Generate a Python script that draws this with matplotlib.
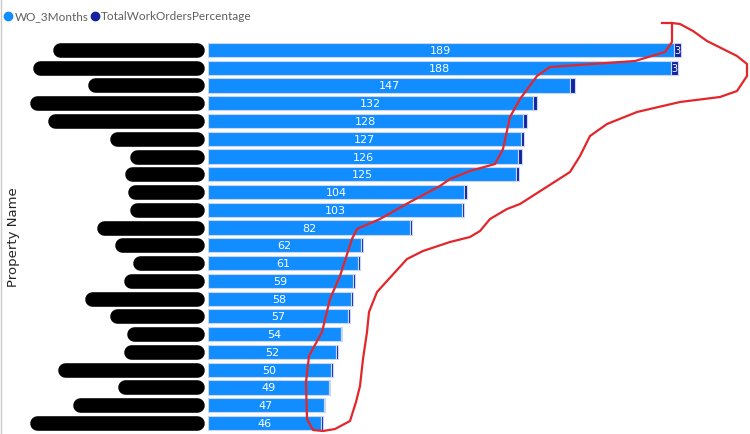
import matplotlib.pyplot as plt
import numpy as np

# data (property names are blacked out in the source)
wo3Months = [189, 188, 147, 132, 128, 127, 126, 125, 104, 103, 82,
             62, 61, 59, 58, 57, 54, 52, 50, 49, 47, 46]
woPercent = [3, 3, 2, 1.7, 1.6, 1.4, 1.5, 1.3, 1.1, 1.1, 0.9,
             0.8, 0.8, 0.7, 0.7, 0.7, 0.6, 0.6, 0.6, 0.6, 0.6, 0.5]
percentLabels = ["3", "3"] + [""] * 20

# left end (px) of the black redaction scribble on each row
scribbleLeft = [53, 33, 88, 30, 48, 110, 130, 125, 128, 130, 97,
                115, 133, 124, 85, 110, 127, 124, 58, 118, 73, 30]

# hand drawn red outline (figure pixels)
redX = [662, 672, 672, 665, 635, 550, 537, 520, 510, 503, 495, 470, 450, 440,
        410, 380, 357, 352, 340, 330, 322, 309, 306, 307, 313, 323, 335, 350,
        356, 360, 363, 367, 369, 377, 387, 407, 423, 450, 470, 480, 490, 507,
        520, 570, 580, 590, 607, 637, 680, 720, 737, 747, 747, 737, 717, 707,
        693, 680, 672]
redY = [24, 24, 43, 53, 62, 68, 77, 100, 118, 150, 165, 172, 180, 187,
        203, 220, 230, 240, 277, 300, 333, 357, 383, 420, 431, 432, 430, 422,
        403, 387, 360, 333, 313, 293, 282, 260, 252, 243, 238, 232, 220, 210,
        205, 173, 157, 137, 125, 113, 103, 98, 92, 77, 65, 57, 47, 42,
        32, 25, 24]

W, H = 750, 435
lightBlue = "#118DFF"
darkBlue = "#12239E"

fig = plt.figure(figsize=(W / 100, H / 100), dpi=100)
ax = fig.add_axes([208 / W, 2.2 / H, 532 / W, 390.7 / H])

y = np.arange(len(wo3Months))
ax.barh(y, wo3Months, height=0.8, color=lightBlue, edgecolor="#c9d6f6", linewidth=0.8)
ax.barh(y, woPercent, left=wo3Months, height=0.8, color=darkBlue, edgecolor="#c9d6f6", linewidth=0.8)

for i in range(len(wo3Months)):
    ax.text(wo3Months[i] / 2, i, str(wo3Months[i]), color="white",
            ha="center", va="center", fontsize=8)
    if percentLabels[i]:
        ax.text(wo3Months[i] + woPercent[i] / 2, i, percentLabels[i], color="white",
                ha="center", va="center", fontsize=7)

ax.set_xlim(0, 216)
ax.set_ylim(len(wo3Months) - 0.5, -0.5)
ax.axis("off")

# overlay in pixel coordinates for legend, axis title and the drawn-on marks
ov = fig.add_axes([0, 0, 1, 1], facecolor="none")
ov.set_xlim(0, W)
ov.set_ylim(H, 0)
ov.axis("off")

ov.plot([8], [17], "o", color=lightBlue, markersize=6)
ov.text(15, 17, "WO_3Months", color="#605E5C", fontsize=8.5, family="Lato", va="center")
ov.plot([95], [17], "o", color=darkBlue, markersize=6)
ov.text(101, 17, "TotalWorkOrdersPercentage", color="#605E5C", fontsize=8.5, family="Lato", va="center")

ov.text(14, 237, "Property Name", rotation=90, color="#252423", fontsize=9.5,
        ha="center", va="center")
ov.plot([1, 1], [0, H], color="#c8c8c8", linewidth=1)

rowY = ax.transData.transform(np.column_stack([np.zeros(len(y)), y]))[:, 1]
for i, left in enumerate(scribbleLeft):
    py = H - rowY[i]
    ov.plot([left + 7, 197], [py, py], color="black", linewidth=10.5,
            solid_capstyle="round")

ov.plot(redX, redY, color="#e3262b", linewidth=1.6)

fig.savefig("out.png", dpi=100)
